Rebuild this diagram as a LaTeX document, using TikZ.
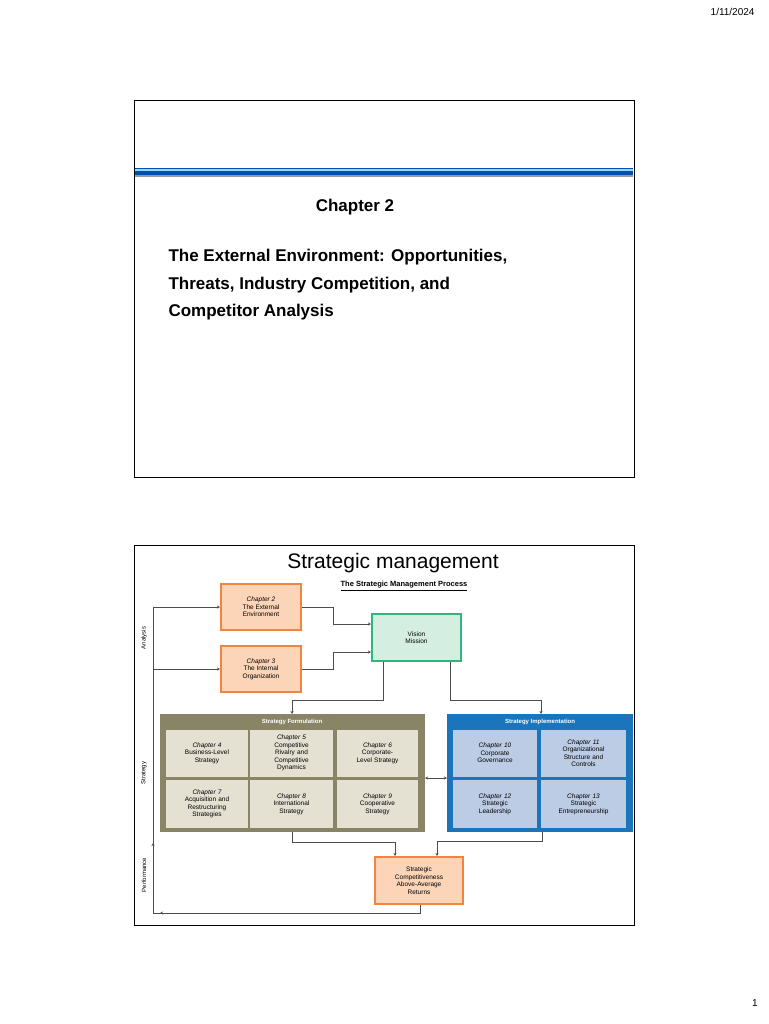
\documentclass[tikz,border=0pt]{standalone}
\usepackage{fontspec}
\setmainfont{Liberation Sans}
\usetikzlibrary{arrows.meta}
\definecolor{orb}{HTML}{F4833D}\definecolor{orf}{HTML}{FCD5B8}
\definecolor{grb}{HTML}{2DB87A}\definecolor{grf}{HTML}{D4EEE2}
\definecolor{olb}{HTML}{8A8466}\definecolor{olf}{HTML}{E4E1D3}
\definecolor{blb}{HTML}{1B75BB}\definecolor{blf}{HTML}{BCCCE4}
\begin{document}
\begin{tikzpicture}[x=1pt,y=-1pt,
  orbox/.style={draw=orb,fill=orf,line width=2pt},
  cell/.style={font=\fontsize{6.5}{7.5}\selectfont,align=center,text width=78pt},
  conn/.style={draw=black!70,line width=0.5pt},
  arr/.style={conn,-{Stealth[length=3pt,width=3pt]}},
  side/.style={rotate=90,font=\fontsize{6}{7}\selectfont}]
\useasboundingbox (0,0) rectangle (768,1024);
\fill[white] (0,0) rectangle (768,1024);
\node[anchor=east,font=\fontsize{10}{12}\selectfont] (date) at (758,12) {1/11/2024};
\node[font=\fontsize{10}{12}\selectfont] (pg) at (755,1003) {1};
% slide 1
\draw[line width=0.8pt] (134,100) rectangle (634,477);
\fill[blue!55!cyan!70!black] (135,168) rectangle (633,175);
\fill[blue!40!cyan!40] (135,169) rectangle (633,171);
\fill[black!40] (135,175) rectangle (633,177);
\node[font=\bfseries\fontsize{17}{20}\selectfont] (ch2t) at (355,207) {Chapter 2};
\node[anchor=north west,align=left,font=\bfseries\fontsize{17}{27.5}\selectfont] (ttl) at (165,246) {The External Environment: Opportunities,\\Threats, Industry Competition, and\\Competitor Analysis};
% slide 2
\draw[line width=0.8pt] (134,545) rectangle (634,925);
\node[font=\fontsize{21}{24}\selectfont] (sm) at (393,563) {Strategic management};
\node[font=\bfseries\fontsize{7.5}{9}\selectfont] (sub) at (404,586) {\underline{The Strategic Management Process}};
\node[orbox,minimum width=80pt,minimum height=46pt,align=center,font=\fontsize{6.5}{7.5}\selectfont] (c2) at (261,607) {\itshape Chapter 2\\The External\\Environment};
\node[orbox,minimum width=80pt,minimum height=46pt,align=center,font=\fontsize{6.5}{7.5}\selectfont] (c3) at (261,669) {\itshape Chapter 3\\The Internal\\Organization};
\node[draw=grb,fill=grf,line width=2pt,minimum width=89pt,minimum height=47pt,align=center,font=\fontsize{6.5}{7.5}\selectfont] (vm) at (416.5,637.5) {Vision\\Mission};
\node[orbox,minimum width=88pt,minimum height=47pt,align=center,font=\fontsize{6.5}{7.5}\selectfont] (sc) at (419,880.5) {Strategic\\Competitiveness\\Above-Average\\Returns};
% formulation
\fill[olb] (160,714) rectangle (425,832);
\node[text=white,font=\bfseries\fontsize{6}{7}\selectfont] (sfh) at (292,722) {Strategy Formulation};
\foreach \x/\xx in {166/248,250/333,337/418}{\foreach \y/\yy in {730/777,780/828}{\fill[olf] (\x,\y) rectangle (\xx,\yy);}}
\node[cell] (c4) at (207,753) {\itshape Chapter 4\\\upshape Business-Level\\Strategy};
\node[cell] (c5) at (291.5,753) {\itshape Chapter 5\\\upshape Competitive\\Rivalry and\\Competitive\\Dynamics};
\node[cell] (c6) at (377.5,753) {\itshape Chapter 6\\\upshape Corporate-\\Level Strategy};
\node[cell] (c7) at (207,804) {\itshape Chapter 7\\\upshape Acquisition and\\Restructuring\\Strategies};
\node[cell] (c8) at (291.5,804) {\itshape Chapter 8\\\upshape International\\Strategy};
\node[cell] (c9) at (377.5,804) {\itshape Chapter 9\\\upshape Cooperative\\Strategy};
\coordinate (sf) at (292,832);
% implementation
\fill[blb] (447,714) rectangle (633,832);
\node[text=white,font=\bfseries\fontsize{6}{7}\selectfont] (sih) at (540,722) {Strategy Implementation};
\foreach \x/\xx in {453/537,541/626}{\foreach \y/\yy in {730/777,780/828}{\fill[blf] (\x,\y) rectangle (\xx,\yy);}}
\node[cell] (c10) at (495,753) {\itshape Chapter 10\\\upshape Corporate\\Governance};
\node[cell] (c11) at (583.5,753) {\itshape Chapter 11\\\upshape Organizational\\Structure and\\Controls};
\node[cell] (c12) at (495,804) {\itshape Chapter 12\\\upshape Strategic\\Leadership};
\node[cell] (c13) at (583.5,804) {\itshape Chapter 13\\\upshape Strategic\\Entrepreneurship};
% connectors
\draw[arr] (c2.east) -- (333,607) |- (vm.west |- 0,624);
\draw[arr] (c3.east) -- (333,669) |- (vm.west |- 0,652);
\draw[arr] (vm.south -| 383,0) |- (292,700) -- (292,714);
\draw[arr] (vm.south -| 450,0) |- (541,700) -- (541,714);
\draw[conn,{Stealth[length=3pt,width=3pt]}-{Stealth[length=3pt,width=3pt]}] (425,778) -- (447,778);
\draw[arr] (sf) |- (395,842) -- (sc.north -| 395,0);
\draw[arr] (542,832) |- (437,841) -- (sc.north -| 437,0);
\draw[conn] (sc.south -| 420,0) -- (420,913) -- (153,913) -- (153,607);
\draw[arr] (420,913) -- (160,913);
\draw[arr] (153,850) -- (153,843);
\draw[arr] (153,607) -- (c2.west);
\draw[arr] (153,669) -- (c3.west);
\node[side] (la) at (144,638) {Analysis};
\node[side] (ls) at (144,773) {Strategy};
\node[side] (lp) at (144,875) {Performance};
\end{tikzpicture}
\end{document}
